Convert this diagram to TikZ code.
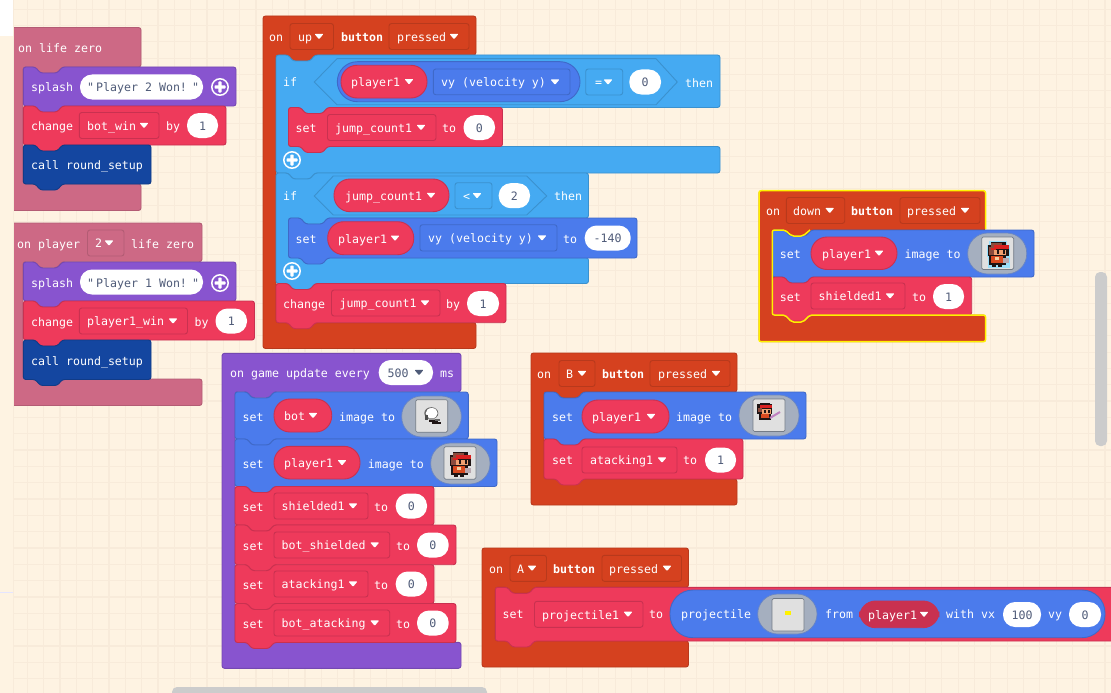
\documentclass[tikz,border=0pt]{standalone}
\usepackage{fontspec}
\setmainfont[Ligatures=TeXOff]{DejaVu Sans Mono}
\definecolor{cBg}{HTML}{FEF3E2}
\definecolor{cGrid}{HTML}{F8EBDA}
\definecolor{cHat}{HTML}{D5411F}\definecolor{cHatd}{HTML}{B8391C}
\definecolor{cPink}{HTML}{CD6985}\definecolor{cPinkd}{HTML}{B35C74}
\definecolor{cPur}{HTML}{8854CF}\definecolor{cPurd}{HTML}{7548B2}
\definecolor{cVar}{HTML}{EE3A5B}\definecolor{cVard}{HTML}{C93150}
\definecolor{cFn}{HTML}{1446A0}\definecolor{cFnd}{HTML}{113B87}
\definecolor{cSpr}{HTML}{4B7BEC}\definecolor{cSprd}{HTML}{3F69C8}
\definecolor{cLog}{HTML}{45AAF2}\definecolor{cLogd}{HTML}{3B91CE}
\definecolor{cNum}{HTML}{4F5B78}
\definecolor{cImg}{HTML}{A5AFBF}\definecolor{cSq}{HTML}{E0E0E0}
\definecolor{cYel}{HTML}{FFF200}
\definecolor{hDk}{HTML}{1E1414}\definecolor{hBr}{HTML}{8A4B3C}\definecolor{hRe}{HTML}{D9201F}
\definecolor{hFa}{HTML}{F0A070}\definecolor{hBo}{HTML}{D84A20}\definecolor{hSk}{HTML}{F5D0A0}
\definecolor{hHa}{HTML}{B8A8B0}
\newcount\nid
\newcommand\tx[3]{\global\advance\nid by 1 \node[lbl] (n\the\nid) at (#1,#2+4.2) {#3};}
\newcommand\numb[4]{\fill[white,rounded corners=12pt] (#1,#3-12.5) rectangle (#2,#3+12.5);
  \global\advance\nid by 1 \node[lbl,anchor=base,text=cNum] (n\the\nid) at ({(#1+#2)/2},#3+4.7) {#4};}
\newcommand\tri[3][white]{\fill[#1,rounded corners=.8pt] (#2-4.5,#3-2.6) -- (#2+4.5,#3-2.6) -- (#2,#3+2.8) -- cycle;}
% dropdown: colour, x1, x2, cy, text x, tri x, text
\newcommand\dd[7]{\draw[#1d,line width=.9pt,rounded corners=2.5pt] (#2,#4-13) rectangle (#3,#4+13);
  \tx{#5}{#4+.7}{#7}\tri{#6}{#4}}
% round pill with dropdown
\newcommand\rpill[8][cVar]{\draw[fill=#1,draw=cVard,line width=.9pt,rounded corners=16pt] (#2,#4) rectangle (#3,#5);
  \pgfmathsetmacro\cyy{(#4+#5)/2}\tx{#6}{\cyy+.7}{#8}\tri{#7}{\cyy}}
% stack block
\newcommand\blk[5]{\draw[fill=#5,draw=#5d,line width=.9pt,rounded corners=2.5pt,line join=round]
  (#1,#2) -- (#1+12,#2) -- (#1+17,#2+6) -- (#1+34,#2+6) -- (#1+39,#2) -- (#3,#2) -- (#3,#4)
  -- (#1+39,#4) -- (#1+34,#4+6) -- (#1+17,#4+6) -- (#1+12,#4) -- (#1,#4) -- cycle;}
% hat C block: x1,y1,x2,hy,ax,by1,by2,colour
\newcommand\hatb[8]{\draw[fill=#8,draw=#8d,line width=.9pt,rounded corners=2.5pt,line join=round]
  (#1,#2) -- (#3,#2) -- (#3,#4) -- (#5+39,#4) -- (#5+34,#4+6) -- (#5+17,#4+6) -- (#5+12,#4) -- (#5,#4)
  -- (#5,#6) -- (#3,#6) -- (#3,#7) -- (#1,#7) -- cycle;}
% if block: x1,y1,x2,hy,ax,by1,by2
\newcommand\ifb[7]{\draw[fill=cLog,draw=cLogd,line width=.9pt,rounded corners=2.5pt,line join=round]
  (#1,#2) -- (#1+12,#2) -- (#1+17,#2+6) -- (#1+34,#2+6) -- (#1+39,#2) -- (#3,#2) -- (#3,#4)
  -- (#5+39,#4) -- (#5+34,#4+6) -- (#5+17,#4+6) -- (#5+12,#4) -- (#5,#4)
  -- (#5,#6) -- (#3,#6) -- (#3,#7) -- (#1+39,#7) -- (#1+34,#7+6) -- (#1+17,#7+6) -- (#1+12,#7) -- (#1,#7) -- cycle;}
\newcommand\plusic[2]{\draw[white,line width=1.5pt] (#1,#2) circle[radius=8.2];
  \fill[white,rounded corners=.8pt] (#1-5.5,#2-1.7) rectangle (#1+5.5,#2+1.7);
  \fill[white,rounded corners=.8pt] (#1-1.7,#2-5.5) rectangle (#1+1.7,#2+5.5);}
% image field: pill x1,x2,y1,y2, square x1,y1
\newcommand\imgf[6]{\draw[fill=cImg,draw=cSprd!60!cImg,line width=.7pt,rounded corners=20pt] (#1,#3) rectangle (#2,#4);
  \draw[fill=cSq,draw=cImg!70!black,line width=.7pt,rounded corners=1.5pt] (#5,#6) rectangle (#5+32,#6+32.5);}
\newcommand\pr[5]{\fill[#5] (#1,#2) rectangle (#3,#4);}
\newcommand\hero[3][]{\begin{scope}[shift={(#2,#3)}]
  #1
  \pr{6}{8}{27}{19}{hDk}\pr{9}{5}{24}{9}{hDk}\pr{7}{19}{24}{28}{hDk}
  \pr{9}{6}{20}{10}{hBr}\pr{7}{10}{12}{18}{hBr}
  \pr{12}{8}{27}{12}{hRe}\pr{9}{11}{14}{13}{hRe}
  \pr{12}{13}{24}{18}{hFa}\pr{15}{13}{17}{17}{hDk}\pr{21}{13}{23}{17}{hDk}
  \pr{9}{19}{21}{26}{hBo}\pr{13}{20}{17}{23}{hSk}
  \pr{21}{21}{27}{26}{hHa}
  \pr{10}{26}{14}{30}{hDk}\pr{16}{26}{20}{30}{hDk}
\end{scope}}
\tikzset{lbl/.style={inner sep=0pt,anchor=base west,text=white,font=\fontsize{11.6}{14}\selectfont}}
\begin{document}
\begin{tikzpicture}[x=1pt,y=-1pt]
\useasboundingbox (0,0) rectangle (1111,693);
\fill[cBg] (0,0) rectangle (1111,693);
\foreach \k in {0,...,66} \draw[cGrid,line width=1.2pt] (27.3+\k*16.33,0) -- (27.3+\k*16.33,693);
\foreach \k in {0,...,41} \draw[cGrid,line width=1.2pt] (0,678.7-\k*16.33) -- (1111,678.7-\k*16.33);

% ---- on life zero
\hatb{6}{27.5}{141}{67}{23}{184}{210.5}{cPink}
\tx{18}{48}{on life zero}
\blk{23.3}{67}{236}{106}{cPur}
\tx{31}{87}{splash}
\fill[white,rounded corners=12pt] (80,74.5) rectangle (203,99.5);
\tx{87}{87}{\textcolor{cNum}{"}}\tx{96}{87}{\textcolor{cNum}{Player 2 Won!}}\tx{192}{87}{\textcolor{cNum}{"}}
\plusic{220}{87}
\blk{23.3}{106}{226}{145}{cVar}
\tx{31}{126}{change}
\dd{cVar}{79.3}{159}{125.5}{87}{144}{bot\_win}
\tx{166}{126}{by}\numb{187}{218}{125.5}{1}
\blk{23.3}{145}{151}{184}{cFn}
\tx{31}{165}{call round\_setup}

% ---- on player 2 life zero
\hatb{6}{223}{202}{261.7}{23}{379}{405.5}{cPink}
\tx{17}{244}{on player}
\dd{cPink}{87.5}{124}{243}{95}{109}{2}
\tx{131}{244}{life zero}
\blk{23.3}{262}{236}{301}{cPur}
\tx{31}{283}{splash}
\fill[white,rounded corners=12pt] (80,269.5) rectangle (203,294.5);
\tx{87}{283}{\textcolor{cNum}{"}}\tx{96}{283}{\textcolor{cNum}{Player 1 Won!}}\tx{192}{283}{\textcolor{cNum}{"}}
\plusic{220}{283}
\blk{23.3}{301}{254.5}{340}{cVar}
\tx{31}{322}{change}
\dd{cVar}{79.3}{187.5}{321}{87}{173}{player1\_win}
\tx{194.5}{322}{by}\numb{215.5}{247}{321}{1}
\blk{23.3}{340}{151}{379.5}{cFn}
\tx{31}{361}{call round\_setup}

% left panel covers the clipped blocks
\fill[cBg] (0,0) rectangle (13,693);
\draw[cGrid,line width=1pt] (13,0) -- (13,693);
\fill[white] (0,0) rectangle (13,36);
\draw[blue!10!white,line width=.6pt] (0,592) -- (13,592);

% ---- on up button pressed
\hatb{263}{16}{476}{55}{276}{322.7}{348.5}{cHat}
\tx{269}{37}{on}
\dd{cHat}{290}{333.5}{36.5}{298}{319}{up}
\tx{341}{37}{\textbf{button}}
\dd{cHat}{389}{469}{36.5}{397}{454}{pressed}
% first if
\ifb{276}{55}{720}{107.5}{288.5}{146.5}{173}
\tx{283}{82}{if}
\draw[cLogd,line width=.9pt] (314.3,82) -- (337,58.7) -- (656,58.7) -- (677.3,82) -- (656,104.7) -- (337,104.7) -- cycle;
\draw[fill=cSpr,draw=cSprd,line width=.9pt,rounded corners=20pt] (337.3,61.7) rectangle (580,101.7);
\rpill{341}{427}{65.3}{98}{351}{409}{player1}
\draw[fill=cSpr,draw=cSprd,line width=.9pt,rounded corners=2.5pt] (433.3,69) rectangle (570,94.7);
\tx{441}{82.5}{vy (velocity y)}\tri{555}{82}
\dd{cLog}{585.7}{622.7}{82}{595}{608}{=}
\numb{629.3}{661}{82}{0}
\tx{685}{83}{then}
\blk{288.5}{107.5}{502.5}{146.5}{cVar}
\tx{295.5}{128}{set}
\dd{cVar}{327.5}{436}{127.5}{335}{421}{jump\_count1}
\tx{442}{128}{to}\numb{463.5}{495}{127.5}{0}
\plusic{292}{160}
% second if
\ifb{276}{173}{588.5}{218}{288.5}{257.7}{283.5}
\tx{283}{196}{if}
\draw[cLogd,line width=.9pt] (314.3,196) -- (333.3,176) -- (526.7,176) -- (546.7,196) -- (526.7,215) -- (333.3,215) -- cycle;
\rpill{334}{449}{179}{211.7}{345}{431}{jump\_count1}
\dd{cLog}{455}{492}{195.7}{463}{477}{<}
\numb{498.7}{530}{195.7}{2}
\tx{554}{196}{then}
\blk{288.5}{218}{637}{258}{cSpr}
\tx{295.5}{239}{set}
\rpill{327.7}{413.7}{221.7}{254.7}{338}{395}{player1}
\draw[fill=cSpr,draw=cSprd,line width=.9pt,rounded corners=2.5pt] (420,224.7) rectangle (557,251);
\tx{428}{238.7}{vy (velocity y)}\tri{542}{238}
\tx{563}{239}{to}\numb{584.7}{630.7}{238}{-140}
\plusic{292}{271}
\blk{276}{283.5}{506}{322.7}{cVar}
\tx{283}{304}{change}
\dd{cVar}{331.5}{440}{303}{339.5}{425}{jump\_count1}
\tx{446}{304}{by}\numb{467}{499}{303.5}{1}

% ---- on down button pressed
\hatb{759}{190.7}{985.5}{230}{772.3}{315}{341.7}{cHat}
\tx{766}{211}{on}
\dd{cHat}{786.3}{844.7}{210.5}{793}{829.7}{down}
\tx{851}{211}{\textbf{button}}
\dd{cHat}{900}{980}{210.5}{907}{965}{pressed}
\blk{772.3}{230}{1034}{277}{cSpr}
\tx{779.7}{254}{set}
\rpill{811}{897}{237}{269.5}{822}{879}{player1}
\tx{904.5}{254}{image to}
\imgf{967.7}{1026.7}{233}{274}{981.7}{237}
\hero[\pr{7}{4}{25}{10}{cyan!40!white}\pr{5}{8}{28}{20}{cyan!40!white}\pr{6}{19}{28}{31}{cyan!40!white}]{981.7}{237}
\blk{772.3}{277}{971.7}{315}{cVar}
\tx{779.7}{297}{set}
\dd{cVar}{811}{905}{296}{818.5}{890}{shielded1}
\tx{912}{297}{to}\numb{933}{964}{296.5}{1}
\draw[cYel,line width=1.5pt,line join=round,rounded corners=2pt]
  (810,230) -- (803,236) -- (791.7,236) -- (785,230) -- (772.3,230) -- (772.3,315) -- (785,315)
  -- (791.7,322) -- (803,322) -- (810,315) -- (985.5,315) -- (985.5,341.7) -- (759,341.7)
  -- (759,190.7) -- (985.5,190.7) -- (985.5,229);

% ---- on B button pressed
\hatb{531}{353}{737}{392}{544}{479}{505}{cHat}
\tx{537}{374}{on}
\dd{cHat}{559}{595}{373.5}{566}{582}{B}
\tx{602}{374}{\textbf{button}}
\dd{cHat}{650}{730}{373.5}{658}{716}{pressed}
\blk{544}{392}{806}{439}{cSpr}
\tx{552}{417}{set}
\rpill{582}{669}{400}{433}{592}{651}{player1}
\tx{676}{417}{image to}
\imgf{739}{799}{395}{436}{753}{399}
\begin{scope}[shift={(753,399)}]
  \pr{4}{5}{19}{15}{hDk}\pr{7}{4}{17}{7}{hDk}
  \pr{7}{6}{19}{9}{hRe}\pr{5}{9}{9}{13}{hBr}
  \pr{9}{10}{18}{15}{hFa}\pr{11}{11}{13}{14}{hDk}\pr{15}{11}{17}{14}{hDk}
  \pr{6}{15}{18}{21}{hDk}\pr{8}{15}{16}{19}{hBo}
  \draw[violet!50!white,line width=2pt] (17,19) -- (27,13);
\end{scope}
\blk{544}{439}{743}{479}{cVar}
\tx{552}{460}{set}
\dd{cVar}{582}{677}{460}{590}{662}{atacking1}
\tx{683}{460}{to}\numb{705}{736}{460}{1}

% ---- on A button pressed
\hatb{482}{548}{688.5}{587.3}{495.3}{641}{667}{cHat}
\tx{489}{569}{on}
\dd{cHat}{510}{546.5}{568.3}{517}{532}{A}
\tx{553}{569}{\textbf{button}}
\dd{cHat}{602}{681.5}{568.3}{609}{667}{pressed}
\blk{495.3}{587.3}{1116}{641}{cVar}
\tx{502.5}{614}{set}
\dd{cVar}{534.5}{643}{614.3}{542}{628}{projectile1}
\tx{649}{614}{to}
\draw[fill=cSpr,draw=cSprd,line width=.9pt,rounded corners=23pt] (670,590) rectangle (1105,637.7);
\tx{681}{614}{projectile}
\imgf{757.7}{817}{594}{634}{772}{598.5}
\pr{785}{611}{791}{615}{yellow}
\tx{825}{614}{from}
\rpill[cVard]{859.6}{939}{601}{627.7}{868}{924}{player1}
\tx{946}{614}{with vx}
\numb{1003}{1041}{614.5}{100}
\tx{1048}{614}{vy}
\numb{1069}{1101}{614.5}{0}

% ---- on game update
\hatb{222}{353.3}{461}{391.7}{235}{642.3}{668.3}{cPur}
\tx{230}{373}{on game update every}
\fill[white,rounded corners=12pt] (378.7,360) rectangle (433,385);
\tx{387.5}{373}{\textcolor{cNum}{500}}\tri[cNum]{419}{372.5}
\tx{440}{373}{ms}
\blk{235}{392}{468.3}{439}{cSpr}
\tx{242.5}{417}{set}
\rpill{274}{331.7}{399}{432}{284}{313}{bot}
\tx{339}{417}{image to}
\imgf{401.7}{461.3}{396}{437}{415.7}{399.7}
\begin{scope}[shift={(415.7,399.7)}]
  \fill[black!60] (15.6,13.5) ellipse[x radius=7,y radius=6];
  \fill[white] (16,13.5) ellipse[x radius=6,y radius=5.2];
  \pr{9}{15}{12}{20}{black!70}
  \pr{13}{18}{19}{20}{gray!80}
  \pr{13}{20}{22}{22}{hDk}\pr{16}{22}{25}{24}{hDk}\pr{19}{19}{24}{21}{black!60}
\end{scope}
\blk{235}{439}{497}{486.5}{cSpr}
\tx{242.5}{464}{set}
\rpill{274}{360}{446.3}{479}{284}{342}{player1}
\tx{367.7}{464}{image to}
\imgf{430.7}{490}{443}{484}{444}{446.7}
\hero{444}{446.7}
\blk{235}{486.5}{434}{525}{cVar}
\tx{242.5}{507}{set}
\dd{cVar}{274}{368}{506}{281.5}{353}{shielded1}
\tx{374}{507}{to}\numb{395.7}{427}{506}{0}
\blk{235}{525}{456}{564.7}{cVar}
\tx{242.5}{546}{set}
\dd{cVar}{274}{389.7}{545}{281.5}{374.7}{bot\_shielded}
\tx{396}{546}{to}\numb{417}{448.7}{545}{0}
\blk{235}{564.7}{434}{603.5}{cVar}
\tx{242.5}{585}{set}
\dd{cVar}{274}{368}{584}{281.5}{353}{atacking1}
\tx{374}{585}{to}\numb{395.7}{427}{584}{0}
\blk{235}{603.5}{456}{642.5}{cVar}
\tx{242.5}{624}{set}
\dd{cVar}{274}{389.7}{623}{281.5}{374.7}{bot\_atacking}
\tx{396}{624}{to}\numb{417}{448.7}{623}{0}

% ---- scrollbars
\fill[gray!40!white,rounded corners=5pt] (1095,272) rectangle (1107,446);
\fill[gray!40!white,rounded corners=5pt] (172,687) rectangle (487,700);
\end{tikzpicture}
\end{document}
